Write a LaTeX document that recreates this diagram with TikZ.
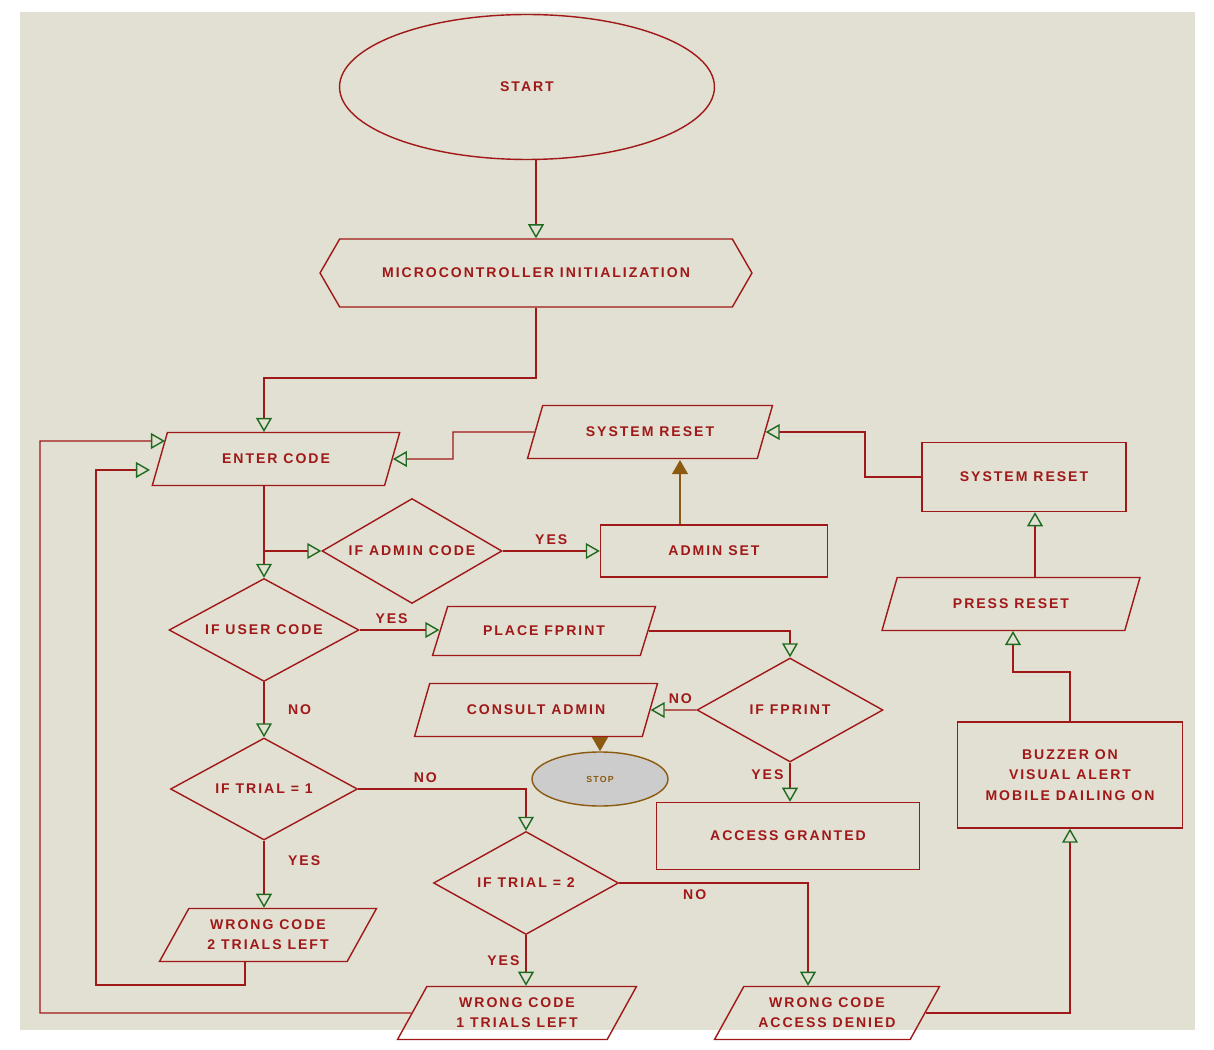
\documentclass[tikz,border=0pt]{standalone}
\usepackage{fontspec}
\setmainfont{Liberation Sans}[LetterSpace=14]
\usetikzlibrary{shapes.geometric,shapes.symbols,arrows.meta}
\definecolor{bg}{HTML}{E1E0D2}
\definecolor{wire}{HTML}{A01818}
\definecolor{grn}{HTML}{1E6A1E}
\definecolor{brn}{HTML}{8B5A10}
\tikzset{
    box/.style={draw=wire, thick, text=wire, font=\footnotesize\bfseries, align=center},
    rect/.style={box, rectangle},
    para/.style={box, trapezium, trapezium left angle=55, trapezium right angle=125,
           trapezium stretches body, minimum height=1.06cm},
    dia/.style={box, diamond, inner sep=0pt, aspect=1.8},
    lbl/.style={text=wire, font=\footnotesize\bfseries},
    w/.style={draw=wire, thick, -{Triangle[open,length=8pt,width=9pt,color=grn]}},
    wb/.style={draw=brn, thick, -{Triangle[length=8pt,width=9pt,color=brn]}}
}
\begin{document}
\begin{tikzpicture}[x=0.02cm,y=-0.02cm]
\useasboundingbox (0,0) rectangle (1214,1050);
\fill[bg] (20,12) rectangle (1195,1030);
% nodes
\node[box, ellipse, minimum width=7.5cm, minimum height=2.9cm] (start) at (527,87) {START};
\node[box, signal, signal to=west and east, signal pointer angle=120,
      minimum width=8.64cm, minimum height=1.36cm] (init) at (536,273) {MICROCONTROLLER INITIALIZATION};
\node[para, minimum width=4.95cm] (enter) at (276,459) {ENTER CODE};
\node[para, minimum width=4.9cm] (rst1) at (650,432) {SYSTEM RESET};
\node[rect, minimum width=4.08cm, minimum height=1.38cm] (rst2) at (1024,477) {SYSTEM RESET};
\node[dia, minimum width=3.6cm, minimum height=2.1cm] (admin) at (412,551) {IF ADMIN CODE};
\node[rect, minimum width=4.54cm, minimum height=1.04cm] (aset) at (714,551) {ADMIN SET};
\node[dia, minimum width=3.8cm, minimum height=2.06cm] (user) at (264,630) {IF USER CODE};
\node[para, minimum width=4.46cm, minimum height=0.98cm] (place) at (544,631) {PLACE FPRINT};
\node[para, minimum width=5.16cm] (press) at (1011,604) {PRESS RESET};
\node[dia, minimum width=3.72cm, minimum height=2.08cm] (fp) at (790,710) {IF FPRINT};
\node[para, minimum width=4.86cm] (consult) at (536,710) {CONSULT ADMIN};
\node[ellipse, draw=brn, thick, fill=gray!40, minimum width=2.72cm, minimum height=1.08cm,
      font=\tiny\bfseries, text=brn] (stop) at (600,779) {STOP};
\node[rect, minimum width=4.5cm, minimum height=2.12cm] (buzz) at (1070,775)
      {BUZZER ON\\[2pt]VISUAL ALERT\\[2pt]MOBILE DAILING ON};
\node[dia, minimum width=3.74cm, minimum height=2.04cm] (t1) at (264,789) {IF TRIAL = 1};
\node[rect, minimum width=5.26cm, minimum height=1.34cm] (grant) at (788,836) {ACCESS GRANTED};
\node[dia, minimum width=3.7cm, minimum height=2.06cm] (t2) at (526,883) {IF TRIAL = 2};
\node[para, minimum width=4.34cm] (w2) at (268,935) {WRONG CODE\\[2pt]2 TRIALS LEFT};
\node[para, minimum width=4.78cm] (w1) at (517,1013) {WRONG CODE\\[2pt]1 TRIALS LEFT};
\node[para, minimum width=4.5cm] (deny) at (827,1013) {WRONG CODE\\[2pt]ACCESS DENIED};
% connectors
\coordinate (j1) at (264,551);
\draw[w] (start.south -| init.north) -- (init.north);
\draw[w] (init.south) |- (264,378) -- (264,432);
\draw[w] (264,486) -- (user.north);
\draw[w] (j1) -- (admin.west);
\draw[w] (admin.east) -- node[lbl, above] {YES} (aset.west);
\draw[wb] (aset.north -| 680,0) -- (680,460);
\draw[w] (rst1.west) -- (453,432) |- (enter.east);
\draw[w] (rst2.west) -- (865,477) |- (rst1.east);
\draw[w] (press.north -| 1035,0) -- (rst2.south -| 1035,0);
\draw[w] (buzz.north) |- (1013,672) -- (1013,631);
\draw[w] (deny.east) -| (buzz.south);
\draw[w] (user.east) -- node[lbl, above, pos=0.4] {YES} (place.west |- user.east);
\draw[w] (place.east) -| (fp.north);
\draw[w] (fp.west) -- node[lbl, above, pos=0.35] {NO} (consult.east);
\draw[wb] (consult.south -| stop.north) -- (stop.north);
\draw[w] (fp.south) -- node[lbl, left, pos=0.3] {YES} (grant.north -| fp.south);
\draw[w] (user.south) -- node[lbl, right, xshift=10pt] {NO} (t1.north);
\draw[w] (t1.east) -| node[lbl, above, pos=0.2] {NO} (t2.north);
\draw[w] (t1.south) -- node[lbl, right, xshift=10pt, pos=0.3] {YES} (w2.north -| t1.south);
\draw[w] (t2.south) -- node[lbl, left, pos=0.5] {YES} (w1.north -| t2.south);
\draw[w] (t2.east) -| node[lbl, below, pos=0.2] {NO} (deny.north -| 808,0);
\draw[w] (245,962) -- (245,985) -- (96,985) -- (96,470) -- (150,470);
\draw[w] (w1.west) -- (40,1013) -- (40,441) -- (165,441);
\end{tikzpicture}
\end{document}
